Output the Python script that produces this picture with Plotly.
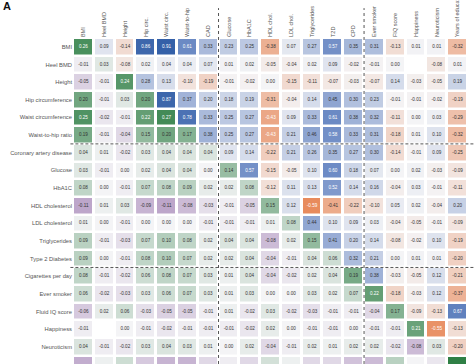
import numpy as np
import plotly.graph_objects as go

row_labels = ["BMI", "Heel BMD", "Height", "Hip circumference", "Waist circumference",
              "Waist-to-hip ratio", "Coronary artery disease", "Glucose", "HbA1C",
              "HDL cholesterol", "LDL cholesterol", "Triglycerides", "Type 2 Diabetes",
              "Cigarettes per day", "Ever smoker", "Fluid IQ score", "Happiness",
              "Neuroticism", "Years of education"]
col_labels = ["BMI", "Heel BMD", "Height", "Hip circ.", "Waist circ.", "Waist-to-hip", "CAD",
              "Glucose", "HbA1C", "HDL chol.", "LDL chol.", "Triglycerides", "T2D", "CPD",
              "Ever smoker", "FIQ score", "Happiness", "Neuroticism", "Years of education"]

N = None
r_bmi   = [0.26, 0.09, -0.14, 0.86, 0.91, 0.61, 0.33, 0.23, 0.25, -0.38, 0.07, 0.27, 0.57, 0.35, 0.31, -0.13, 0.01, 0.01, -0.32]
r_heel  = [-0.01, 0.03, -0.08, 0.02, 0.04, 0.04, 0.07, 0.01, 0.02, -0.05, -0.04, 0.02, 0.09, -0.02, -0.01, 0.00, N, -0.08, 0.01]
r_hgt   = [-0.05, -0.01, 0.24, 0.28, 0.13, -0.10, -0.19, -0.01, -0.02, 0.00, -0.15, -0.11, -0.07, -0.03, -0.07, 0.14, -0.03, -0.05, 0.19]
r_hip   = [0.20, -0.01, 0.03, 0.20, 0.87, 0.37, 0.20, 0.18, 0.19, -0.31, -0.04, 0.14, 0.45, 0.30, 0.23, -0.01, -0.01, -0.02, -0.19]
r_waist = [0.25, -0.02, -0.01, 0.22, 0.27, 0.78, 0.33, 0.25, 0.27, -0.43, 0.09, 0.33, 0.61, 0.38, 0.32, -0.11, 0.00, 0.03, -0.29]
r_whr   = [0.19, -0.01, -0.04, 0.15, 0.20, 0.17, 0.38, 0.25, 0.27, -0.43, 0.21, 0.46, 0.58, 0.33, 0.31, -0.18, 0.01, 0.10, -0.32]
r_cad   = [0.04, 0.01, -0.02, 0.03, 0.04, 0.04, 0.04, 0.09, 0.14, -0.22, 0.21, 0.26, 0.35, 0.27, 0.30, -0.14, -0.01, 0.09, -0.25]
r_glu   = [0.03, -0.01, 0.00, 0.02, 0.04, 0.04, 0.00, 0.14, 0.57, -0.15, -0.05, 0.10, 0.60, 0.18, 0.07, 0.00, 0.02, -0.03, -0.09]
r_hba   = [0.08, 0.00, -0.01, 0.07, 0.08, 0.09, 0.02, 0.02, 0.08, -0.12, 0.11, 0.13, 0.52, 0.14, 0.16, -0.04, 0.03, -0.01, -0.11]
r_hdl   = [-0.11, 0.01, 0.03, -0.09, -0.11, -0.08, -0.03, -0.01, -0.05, 0.15, 0.12, -0.59, -0.41, -0.22, -0.10, 0.05, 0.02, -0.04, 0.20]
r_ldl   = [0.01, 0.00, -0.01, 0.00, 0.00, 0.00, -0.01, -0.01, -0.01, 0.01, 0.08, 0.44, 0.10, 0.09, 0.03, -0.04, -0.05, -0.01, -0.09]
r_trig  = [0.09, -0.01, -0.03, 0.07, 0.10, 0.08, 0.02, 0.04, 0.04, -0.08, 0.02, 0.15, 0.41, 0.20, 0.14, -0.08, -0.02, 0.10, -0.19]
r_t2d   = [0.09, 0.00, -0.01, 0.08, 0.10, 0.07, 0.02, 0.02, 0.04, -0.04, -0.01, 0.04, 0.06, 0.32, 0.21, 0.00, 0.01, 0.01, -0.20]
r_cpd   = [0.08, -0.01, -0.02, 0.06, 0.08, 0.07, 0.03, 0.01, 0.04, -0.04, -0.02, 0.02, 0.04, 0.19, 0.38, -0.03, -0.05, 0.12, -0.21]
r_smk   = [0.06, -0.02, -0.03, 0.03, 0.06, 0.07, 0.03, 0.01, 0.03, 0.00, 0.00, 0.03, 0.02, 0.07, 0.22, -0.18, -0.03, 0.12, -0.37]
r_fiq   = [-0.06, 0.02, 0.06, -0.03, -0.05, -0.05, -0.01, 0.01, -0.02, 0.03, -0.02, -0.03, -0.01, -0.01, -0.04, 0.17, -0.09, -0.13, 0.67]
r_hap   = [-0.01, N, 0.00, -0.01, -0.02, -0.01, -0.01, -0.01, -0.02, 0.02, 0.00, -0.01, -0.01, 0.00, -0.01, -0.01, 0.21, -0.55, -0.13]
r_neu   = [0.04, -0.01, -0.02, 0.03, 0.04, 0.03, 0.01, 0.00, 0.02, -0.04, -0.01, 0.02, 0.01, 0.02, 0.02, -0.02, -0.08, 0.03, -0.20]
r_edu   = [-0.10, 0.01, 0.06, -0.06, -0.09, -0.09, -0.04, -0.01, -0.04, 0.05, 0.01, -0.04, -0.04, -0.07, -0.08, 0.09, 0.00, -0.02, 0.32]

rows = [r_bmi, r_heel, r_hgt, r_hip, r_waist, r_whr, r_cad, r_glu, r_hba, r_hdl, r_ldl,
        r_trig, r_t2d, r_cpd, r_smk, r_fiq, r_hap, r_neu, r_edu]

Z = np.array([[np.nan if v is None else v for v in r] for r in rows], dtype=float)
n = Z.shape[0]
ii, jj = np.indices(Z.shape)
upper = np.where(jj > ii, Z, np.nan)
lower = np.where(jj <= ii, Z, np.nan)

W, H = 474, 364
ml, mr, mt, mb = 72.6, 5.6, 37.9, 0
y_bottom = 17.97
y_top = -0.5

upper_cs = [[0.0, "#d4521e"], [0.2, "#e8895a"], [0.5, "#f4f4f6"], [0.8, "#6d8bc5"], [1.0, "#24549f"]]
lower_cs = [[0.0, "#5e1f7e"], [0.5, "#f4f4f6"], [1.0, "#2f7f45"]]

fig = go.Figure()
xs = list(range(n))
fig.add_trace(go.Heatmap(z=upper, x=xs, y=xs, colorscale=upper_cs, zmin=-1, zmax=1,
                         xgap=3, ygap=2.5, showscale=False, hoverinfo="skip"))
fig.add_trace(go.Heatmap(z=lower, x=xs, y=xs, colorscale=lower_cs, zmin=-0.3, zmax=0.3,
                         xgap=3, ygap=2.5, showscale=False, hoverinfo="skip"))

# value labels only for rows whose cell centre lies inside the visible axis range
tx, ty, tt, tc = [], [], [], []
for i in range(n):
    if i + 0.3 > y_bottom:
        continue
    for j in range(n):
        v = Z[i, j]
        if np.isnan(v):
            continue
        tx.append(j); ty.append(i); tt.append(f"{v:.2f}")
        if j > i:
            white = v >= 0.5 or v <= -0.42
        else:
            white = v >= 0.21 or v <= -0.2
        tc.append("white" if white else "#333333")
fig.add_trace(go.Scatter(x=tx, y=ty, text=tt, mode="text",
                         textfont=dict(size=4.6, color=tc, family="Arial"),
                         hoverinfo="skip", showlegend=False, cliponaxis=True))

pw = W - ml - mr
ph = H - mt - mb

def ypaper(yv):
    return (y_bottom - yv) / (y_bottom - y_top)

shapes = []
for xb in [6.5, 13.5]:
    xp = (xb + 0.5) / n
    shapes.append(dict(type="line", xref="paper", yref="paper", x0=xp, x1=xp,
                       y0=0, y1=1 + (mt - 8) / ph,
                       line=dict(color="#555555", width=1, dash="dot")))
for yb in [5.5, 12.5]:
    yp = ypaper(yb)
    shapes.append(dict(type="line", xref="paper", yref="paper",
                       x0=(70 - ml) / pw, x1=(W - ml) / pw, y0=yp, y1=yp,
                       line=dict(color="#555555", width=1, dash="3px,2px")))

fig.update_layout(
    width=W, height=H,
    margin=dict(l=ml, r=mr, t=mt, b=mb, autoexpand=False),
    paper_bgcolor="white", plot_bgcolor="white",
    showlegend=False,
    shapes=shapes,
    xaxis=dict(range=[-0.5, n - 0.5], side="top", tickvals=xs, ticktext=col_labels,
               tickangle=-90, tickfont=dict(size=5.5, color="#555555", family="Arial"),
               showgrid=False, zeroline=False, showline=False, ticks="", automargin=False,
               fixedrange=True),
    yaxis=dict(range=[y_bottom, y_top], tickvals=xs, ticktext=row_labels,
               tickfont=dict(size=5.8, color="#555555", family="Arial"),
               showgrid=False, zeroline=False, showline=False, ticks="", automargin=False,
               fixedrange=True),
    annotations=[dict(text="<b>A</b>", xref="paper", yref="paper",
                      x=(0 - ml) / pw, y=1 + (mt + 2) / ph, xanchor="left", yanchor="top",
                      showarrow=False, font=dict(size=11, color="#111111", family="Arial"))],
)

fig.write_html("out.html", config={"displayModeBar": False},
               post_script="document.body.style.margin='0px';document.body.style.overflow='hidden';")
